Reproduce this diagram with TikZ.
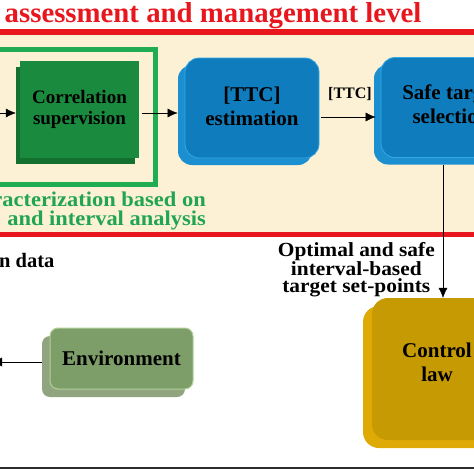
\documentclass[tikz,border=0pt]{standalone}
\usepackage{fontspec}
\setmainfont{Liberation Serif}
\newfontfamily\widefont[FakeStretch=1.07]{Liberation Serif}
\usepackage{tikz}
\usetikzlibrary{shadows}
\usetikzlibrary{calc, positioning}
\usetikzlibrary{shapes, arrows.meta, fit}

\definecolor{bgbeige}{HTML}{FDF1D5}
\definecolor{riskred}{HTML}{E8161D}
\definecolor{framegreen}{HTML}{20AC52}
\definecolor{corrgreen}{HTML}{1A8B3E}
\definecolor{corrshade}{HTML}{13702F}
\definecolor{ttcblue}{HTML}{0F7DBD}
\definecolor{ttcrim}{HTML}{35A8E2}
\definecolor{ttcshade}{HTML}{1B8FD0}
\definecolor{goldfill}{HTML}{C69A02}
\definecolor{goldshade}{HTML}{E0AA06}
\definecolor{envfill}{HTML}{7E9E69}
\definecolor{envrim}{HTML}{B0D296}
\definecolor{envshade}{HTML}{8FA47F}
\definecolor{textgreen}{HTML}{22A553}
\definecolor{darkline}{HTML}{2B2B2B}

\tikzset{
    -{Latex[length=10pt,width=9pt]}, auto, line width=1.4pt, % every connector gets a filled tip
    box/.style = {align=center, text=black, inner sep=0pt, font=\bfseries\fontsize{21}{24}\selectfont},
    corrbox/.style = {box, rectangle, fill=corrgreen, font=\bfseries\fontsize{19}{21}\selectfont,
        copy shadow={shadow xshift=-4pt, shadow yshift=-6pt, fill=corrshade, draw=none}},
    bluebox/.style = {box, rounded corners=14pt, fill=ttcblue, draw=ttcrim, line width=0.8pt,
        copy shadow={shadow xshift=-7pt, shadow yshift=-7pt, fill=ttcshade, draw=none}},
    goldbox/.style = {box, rounded corners=16pt, fill=goldfill,
        copy shadow={shadow xshift=-9pt, shadow yshift=-8pt, fill=goldshade, draw=none}},
    envbox/.style = {box, rounded corners=8pt, fill=envfill, draw=envrim, line width=1pt,
        copy shadow={shadow xshift=-8pt, shadow yshift=-8pt, fill=envshade, draw=none}},
    title/.style = {inner sep=0pt, text=riskred, font=\bfseries\fontsize{28.8}{30}\selectfont},
    unctext/.style = {inner sep=0pt, align=right, text=textgreen, font=\widefont\bfseries\fontsize{21}{19}\selectfont},
    el/.style = {inner sep=2pt, align=center, text=black, font=\bfseries\fontsize{16}{18}\selectfont}
}

\begin{document}
\begin{tikzpicture}[x=1pt, y=-1pt]
    \useasboundingbox (0,0) rectangle (474,474);
    \clip (0,0) rectangle (474,474);
    % bands of the level
    \fill[white] (0,0) rectangle (474,474);
    \fill[bgbeige] (0,32) rectangle (474,234.5);
    \draw[-, riskred, line width=5.5pt] (0,32) -- (474,32);
    \draw[-, riskred, line width=5.5pt] (0,234.5) -- (474,234.5);
    \draw[-, darkline, line width=2pt] (0,468) -- (474,468);

    \node[title, anchor=base west] (lvl) at (4.5,22.5) {assessment and management level};

    % green frame round the supervision block
    \draw[-, framegreen, line width=5pt] (-10,49.5) rectangle (155.5,184.5);
    \node[unctext, anchor=east] (unc) at (206,210.5) {Characterization based on\\and interval analysis};

    % blocks
    \node[corrbox, minimum width=119pt, minimum height=97pt] (corr) at (79.5,109.5) {Correlation\\supervision};
    \node[bluebox, text depth=4pt, minimum width=134pt, minimum height=100pt] (ttc) at (252,108) {[TTC]\\estimation};
    \node[bluebox, text depth=7pt, minimum width=140pt, minimum height=100pt] (safe) at (451,107.5) {Safe target\\selection};
    \node[goldbox, text depth=14pt, minimum width=130pt, minimum height=142pt] (law) at (437,369) {Control\\law};
    \node[envbox, minimum width=143pt, minimum height=61pt] (env) at (121.5,358.5) {Environment};

    \node[el, anchor=base west, font=\bfseries\fontsize{20.5}{22}\selectfont] (dat) at (-3,267) {n data};

    % connectors
    \coordinate (feed) at (-8,113);
    \coordinate (out) at (-8,362);
    \path (feed) edge[shorten >=4pt] (feed -| corr.west);
    \path (corr.east |- feed) edge[shorten <=3pt, shorten >=7pt] (ttc.west |- feed);
    \path ([yshift=-9pt]ttc.east) edge[shorten <=2pt, shorten >=5pt] node[el, above=14pt] {[TTC]} ([yshift=-9pt]ttc.east -| safe.west);
    \path ([xshift=-8pt]safe.south) edge[shorten <=7pt] node[el, left=6pt, pos=0.80, font=\widefont\bfseries\fontsize{20}{17.5}\selectfont] {Optimal and safe\\interval-based\\target set-points} ([xshift=-8pt]safe.south |- law.north);
    \path (env.west |- out) edge[shorten <=8pt] (out);
\end{tikzpicture}
\end{document}
